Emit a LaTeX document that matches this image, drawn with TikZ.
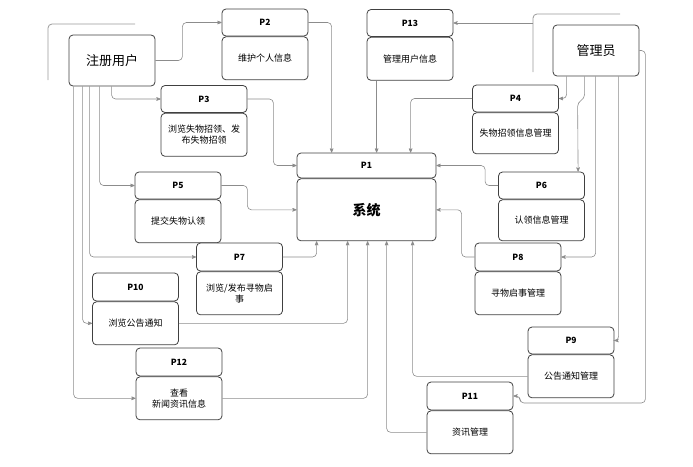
\documentclass[tikz,border=0pt]{standalone}
\usepackage{fontspec}
\setmainfont{Noto Sans CJK SC}
\usetikzlibrary{arrows,positioning}

\begin{document}
\begin{tikzpicture}[x=1pt,y=-1pt,>=stealth',
  box/.style={draw=black!75,rounded corners=4pt,thick,fill=white,inner sep=1pt,align=center,font=\fontsize{9}{11}\selectfont},
  hdr/.style={box,minimum width=86pt,minimum height=27pt,font=\fontsize{8.5}{10}\selectfont\bfseries},
  body/.style={box,minimum width=86pt,minimum height=43pt},
  actor/.style={box,minimum width=86pt,minimum height=51pt,font=\fontsize{13}{15}\selectfont},
  conn/.style={->,draw=black!45,semithick,rounded corners=4pt},
  line/.style={draw=black!40,thick,rounded corners=4pt}]
 \useasboundingbox (0,0) rectangle (693,466);

 \node[actor] (user) at (112,60.5) {注册用户};
 \node[actor] (admin) at (596,50.5) {管理员};

 \node[hdr] (p2h) at (265,22.5) {P2};
 \node[body] (p2b) [below=0pt of p2h] {维护个人信息};
 \node[hdr] (p13h) at (410,23) {P13};
 \node[body] (p13b) [below=0pt of p13h] {管理用户信息};
 \node[hdr] (p3h) at (204,99) {P3};
 \node[body] (p3b) [below=0pt of p3h] {浏览失物招领、发\\布失物招领};
 \node[hdr] (p4h) at (515.5,98.5) {P4};
 \node[body,minimum height=41pt] (p4b) [below=0pt of p4h] {失物招领信息管理};
 \node[hdr,minimum width=139pt,minimum height=25pt] (p1h) at (366.5,165.5) {P1};
 \node[body,minimum width=139pt,minimum height=62pt,font=\fontsize{14}{16}\selectfont\bfseries] (p1b) [below=0pt of p1h] {系统};
 \node[hdr] (p5h) at (178,185.5) {P5};
 \node[body] (p5b) [below=0pt of p5h] {提交失物认领};
 \node[hdr] (p6h) at (541.5,185.5) {P6};
 \node[body,minimum height=41pt] (p6b) [below=0pt of p6h] {认领信息管理};
 \node[hdr,minimum height=28pt] (p7h) at (239.5,257) {P7};
 \node[body] (p7b) [below=0pt of p7h] {浏览/发布寻物启\\事};
 \node[hdr,minimum height=28pt] (p10h) at (135.5,287) {P10};
 \node[body] (p10b) [below=0pt of p10h] {浏览公告通知};
 \node[hdr,minimum height=28pt] (p12h) at (179,362) {P12};
 \node[body] (p12b) [below=0pt of p12h] {查看\\新闻资讯信息};
 \node[hdr,minimum height=28pt] (p8h) at (518,257) {P8};
 \node[body] (p8b) [below=0pt of p8h] {寻物启事管理};
 \node[hdr] (p9h) at (571,340.5) {P9};
 \node[body] (p9b) [below=0pt of p9h] {公告通知管理};
 \node[hdr,minimum height=28pt] (p11h) at (470,396) {P11};
 \node[body] (p11b) [below=0pt of p11h] {资讯管理};

 % brackets
 \draw[line] (48,80) |- (135,24);
 \draw[line] (533,72) |- (620,14);
 \coordinate (a13) at (533,23);
 \coordinate (k11) at (520,403);

 % user side
 \draw[conn] (user.east) -- ++(27,0) |- (p2h.west);
 \draw[conn] ([xshift=43pt]user.south west) |- (p3h.west);
 \draw[conn] ([xshift=31pt]user.south west) |- (p5h.west);
 \draw[conn] ([xshift=21pt]user.south west) |- (p7h.west);
 \draw[conn] ([xshift=14pt]user.south west) |- (p10b.west);
 \draw[conn] ([xshift=5pt]user.south west) |- (p12b.west);

 % into system
 \draw[conn] (p2h.east) -| ([xshift=35pt]p1h.north west);
 \draw[conn] ([xshift=10pt]p13b.south west) -- ([xshift=80pt]p1h.north west);
 \draw[conn] (p4h.west) -| ([xshift=114pt]p1h.north west);
 \draw[conn] (p3h.east) -- ++(26,0) |- (p1h.west);
 \draw[conn] (p5h.east) -- ++(26,0) |- (p1b.west);
 \draw[conn] (p6h.west) -- ++(-13,0) |- (p1h.east);
 \draw[conn] (p8h.west) -- ++(-13,0) |- (p1b.east);
 \draw[conn] (p7h.east) -| ([xshift=20pt]p1b.south west);
 \draw[conn] (p10b.east) -| ([xshift=51pt]p1b.south west);
 \draw[conn] (p12b.east) -| ([xshift=71pt]p1b.south west);
 \draw[conn] (p11b.west) -| ([xshift=90pt]p1b.south west);
 \draw[conn] (p9b.west) -| ([xshift=116pt]p1b.south west);

 % admin side
 \draw[conn] (a13) -- (a13 -| p13h.east);
 \draw[conn] ([xshift=14pt]admin.south west) |- (p4h.east);
 \draw[conn] ([xshift=32pt]admin.south west) -- ++(0,22) -- ++(-7,4) -- ([xshift=80pt]p6h.north west);
 \draw[conn] ([xshift=43pt]admin.south west) |- (p8h.east);
 \draw[conn] ([xshift=66pt]admin.south west) |- (p9h.east);
 \draw[conn] (admin.east) -- ++(6,0) |- (k11) |- (p11h.east);
\end{tikzpicture}
\end{document}
